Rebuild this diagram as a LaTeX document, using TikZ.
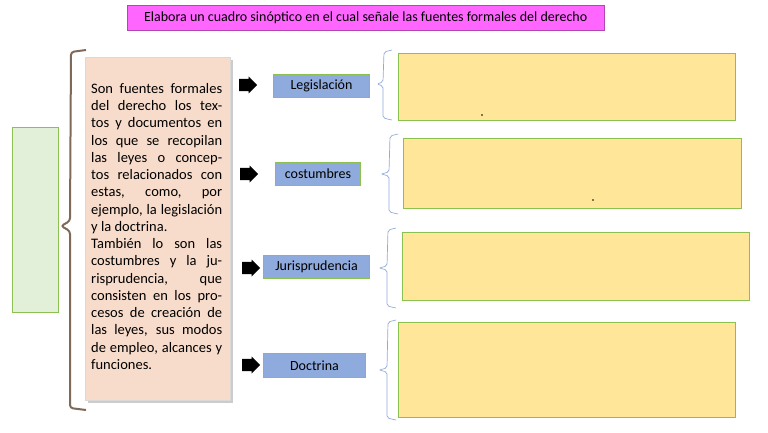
\documentclass[tikz,border=0pt]{standalone}
\usepackage{fontspec}
\setmainfont{Carlito}
\usetikzlibrary{shapes.arrows}
\definecolor{mag}{HTML}{FF66FF}
\definecolor{peach}{HTML}{F8DCCB}
\definecolor{lgreen}{HTML}{E2F0D9}
\definecolor{gborder}{HTML}{8CC152}
\definecolor{bluebox}{HTML}{8FAADC}
\definecolor{yel}{HTML}{FFE699}
\definecolor{brc}{HTML}{7F6A5A}
\definecolor{bbr}{HTML}{8FAADC}
\begin{document}
\begin{tikzpicture}[x=1pt,y=-1pt,
  lbl/.style={draw=gborder,line width=1pt,fill=bluebox,font=\fontsize{14}{16}\selectfont,inner sep=0pt,anchor=north west},
  ybox/.style={draw=gborder,line width=0.8pt,fill=yel},
  blk/.style={single arrow,fill=black,minimum height=18pt,minimum width=17pt,single arrow head extend=1.5pt,single arrow head indent=0pt,inner sep=3.5pt},
  sbr/.style={draw=bbr,line width=0.7pt,rounded corners=2pt}]
\useasboundingbox (0,0) rectangle (768,433);
% title
\node[draw=mag!70!black,fill=mag,minimum width=477pt,minimum height=25pt,anchor=north west,inner sep=0pt,font=\fontsize{14}{16}\selectfont] (title) at (127,5) {Elabora un cuadro sinóptico en el cual señale las fuentes formales del derecho};
% left green box
\node[draw=gborder,fill=lgreen,line width=0.8pt,minimum width=46pt,minimum height=185pt,anchor=north west,inner sep=0pt] (root) at (12,127) {};
% big brace
\draw[brc,line width=2pt,rounded corners=3pt] (86,50) -- (71,52) -- (70,221) -- (61,226) -- (70,231) -- (70,408) -- (86,410);
% text box
\fill[gray!40] (88,60) rectangle (233,403);
\node[draw=white!85!black,fill=peach,line width=0.6pt,minimum width=145pt,minimum height=343pt,anchor=north west,inner sep=0pt] (txt) at (85,57) {};
\node[anchor=north west,inner sep=0pt,text width=131pt,align=justify,font=\fontsize{14.5}{17.25}\selectfont] (body) at (91,83) {\hyphenpenalty=10000\exhyphenpenalty=10000 Son fuentes formales del derecho los textos y documentos en los que se recopilan las leyes o conceptos relacionados con estas, como, por ejemplo, la legislación y la doctrina.\\También lo son las costumbres y la jurisprudencia, que consisten en los procesos de creación de las leyes, sus modos de empleo, alcances y funciones.};
% arrows
\node[blk] (a1) at (245,85) {};
\node[blk] (a2) at (246,174) {};
\node[blk] (a3) at (248,268) {};
\node[blk] (a4) at (248,365) {};
% labels
\node[lbl,minimum width=96pt,minimum height=23pt] (l1) at (273,74) {Legislación};
\node[lbl,minimum width=85pt,minimum height=23pt] (l2) at (275,162) {costumbres};
\node[lbl,minimum width=106pt,minimum height=23pt] (l3) at (263,255) {Jurisprudencia};
\node[lbl,minimum width=102pt,minimum height=24pt] (l4) at (263,353) {Doctrina};
% small braces
\draw[sbr] (392,50) -- (384,52) -- (383,82) -- (377,84) -- (383,86) -- (383,118) -- (392,120);
\draw[sbr] (398,134) -- (390,136) -- (389,172) -- (381,174) -- (389,176) -- (389,212) -- (398,214);
\draw[sbr] (396,228) -- (388,230) -- (387,266) -- (379,268) -- (387,270) -- (387,306) -- (396,308);
\draw[sbr] (396,320) -- (388,322) -- (387,368) -- (379,370) -- (387,372) -- (387,418) -- (396,420);
% yellow boxes
\node[ybox,minimum width=337pt,minimum height=67pt,anchor=north west,inner sep=0pt] (y1) at (398,53) {};
\node[ybox,minimum width=338pt,minimum height=70pt,anchor=north west,inner sep=0pt] (y2) at (403,138) {};
\node[ybox,minimum width=347pt,minimum height=68pt,anchor=north west,inner sep=0pt] (y3) at (402,232) {};
\node[ybox,minimum width=337pt,minimum height=95pt,anchor=north west,inner sep=0pt] (y4) at (398,322) {};
\fill (482,115) circle (0.8pt);
\fill (593,200) circle (0.8pt);
\end{tikzpicture}
\end{document}
